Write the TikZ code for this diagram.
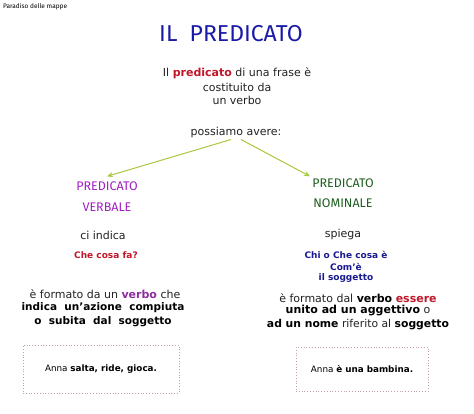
\documentclass[tikz,border=0pt]{standalone}
\usepackage{fontspec}
\setmainfont{DejaVu Sans}
\newfontfamily\comic{Fira Sans}
\usetikzlibrary{arrows.meta}
\definecolor{titleblue}{HTML}{1A1AA8}
\definecolor{predred}{HTML}{C0182A}
\definecolor{verbpurple}{HTML}{8E2D9E}
\definecolor{pvpurple}{HTML}{A020C0}
\definecolor{pngreen}{HTML}{1F5F1F}
\definecolor{navy}{HTML}{1A1A90}
\definecolor{arrgreen}{HTML}{A8C840}
\definecolor{boxline}{HTML}{C0A0A0}
\definecolor{txtgray}{HTML}{222222}
\begin{document}
\begin{tikzpicture}[x=1pt,y=-1pt,
  txt/.style={inner sep=0pt,font=\fontsize{11}{13}\selectfont,text=txtgray},
  boldtxt/.style={inner sep=0pt,font=\bfseries\fontsize{10.5}{12}\selectfont,text=black},
  small/.style={inner sep=0pt,font=\bfseries\fontsize{9}{11}\selectfont},
  captxt/.style={inner sep=0pt,font=\comic\fontsize{12.5}{14}\selectfont},
  arr/.style={draw=arrgreen,line width=1pt,-{Stealth[length=6pt,width=5pt]}},
  ex/.style={draw=boxline,dotted,line width=0.8pt,minimum width=156pt,minimum height=48pt,inner sep=0pt,font=\fontsize{8.8}{11}\selectfont}]
\useasboundingbox (0,0) rectangle (474,414);
\fill[white] (0,0) rectangle (474,414);
\node[anchor=west,inner sep=0pt,font=\comic\fontsize{6.5}{8}\selectfont] (brand) at (3,7) {Paradiso delle mappe};
\node[inner sep=0pt,font=\comic\fontsize{23}{27}\selectfont,text=titleblue] (title) at (231,34) {IL\ \ PREDICATO};
\node[txt] (d1) at (237,73) {Il \textbf{\textcolor{predred}{predicato}} di una frase è};
\node[txt] (d2) at (237,87) {costituito da};
\node[txt] (d3) at (237,100) {un verbo};
\node[txt,inner sep=2pt] (avere) at (236,132) {possiamo avere:};
\node[captxt,text=pvpurple,inner sep=3pt] (pv) at (107,186) {PREDICATO};
\node[captxt,text=pvpurple] (pv2) at (107,207) {VERBALE};
\node[captxt,text=pngreen,inner sep=3pt] (pn) at (343,183) {PREDICATO};
\node[captxt,text=pngreen] (pn2) at (343,203) {NOMINALE};
\draw[arr] ([xshift=-5pt]avere.south) -- ([yshift=2pt]pv.north);
\draw[arr] ([xshift=5pt]avere.south) -- ([xshift=-33pt,yshift=-1pt]pn.north);
\node[txt] (ci) at (103,235) {ci indica};
\node[small,text=predred] (fa) at (106,255) {Che cosa fa?};
\node[txt] (sp) at (343,234) {spiega};
\node[small,text=navy] (chi) at (346,255) {Chi o Che cosa è};
\node[small,text=navy] (com) at (346,267) {Com'è};
\node[small,text=navy] (sog) at (346,278) {il soggetto};
\node[txt] (l1) at (105,294) {è formato da un \textbf{\textcolor{verbpurple}{verbo}} che};
\node[boldtxt] (l2) at (103,308) {indica \ un'azione \ compiuta};
\node[boldtxt] (l3) at (103,322) {o \ subita \ dal \ soggetto};
\node[txt] (r1) at (358,298) {è formato dal \textbf{\textcolor{black}{verbo}} \textbf{\textcolor{predred}{essere}}};
\node[txt] (r2) at (358,311) {\textbf{\textcolor{black}{unito ad un aggettivo}} o};
\node[txt,font=\fontsize{10.8}{13}\selectfont] (r3) at (358,325) {\textbf{\textcolor{black}{ad un nome}} riferito al \textbf{\textcolor{black}{soggetto}}};
\node[ex] (exl) at (101,369) {Anna \textbf{salta, ride, gioca.}};
\node[ex,minimum width=132pt,minimum height=44pt] (exr) at (362,369) {Anna \textbf{è una bambina.}};
\end{tikzpicture}
\end{document}
